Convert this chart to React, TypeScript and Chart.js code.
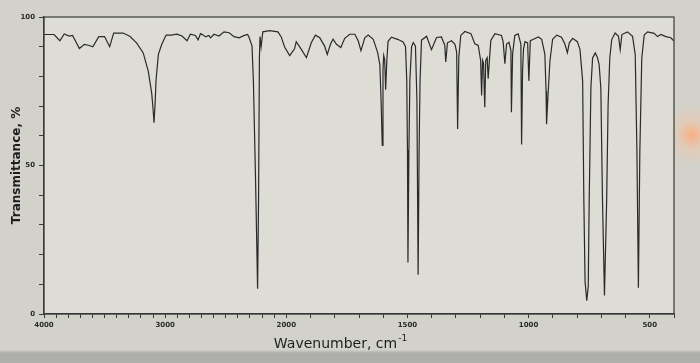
import React, { useEffect, useRef } from "react";
import { Chart, registerables } from "chart.js";

Chart.register(...registerables);

// IR spectrum: wavenumber (cm-1) and transmittance (%)
const wavenumbers = [
  4000, 3917, 3869, 3833, 3792, 3764, 3708, 3667, 3633, 3597, 3548, 3500, 3458, 3425, 3347, 3292,
  3236, 3181, 3139, 3111, 3100, 3092, 3083, 3075, 3056, 3028, 2992, 2950, 2903, 2861, 2819, 2792,
  2750, 2728, 2708, 2681, 2667, 2639, 2625, 2597, 2556, 2514, 2472, 2431, 2389, 2347, 2319, 2306,
  2283, 2272, 2254, 2237, 2229, 2222, 2217, 2208, 2194, 2139, 2069, 2042, 2014, 1986, 1966, 1959,
  1938, 1917, 1897, 1880, 1862, 1842, 1831, 1817, 1807, 1793, 1775, 1759, 1738, 1717, 1703, 1692,
  1676, 1662, 1641, 1623, 1614, 1609, 1604, 1601, 1598, 1594, 1590, 1585, 1580, 1566, 1538, 1518,
  1508, 1503, 1500, 1498, 1494, 1490, 1483, 1476, 1467, 1461, 1456, 1452, 1448, 1442, 1421, 1401,
  1380, 1360, 1346, 1342, 1335, 1318, 1304, 1297, 1293, 1288, 1280, 1263, 1238, 1222, 1208, 1198,
  1194, 1190, 1186, 1181, 1177, 1171, 1167, 1161, 1156, 1139, 1112, 1105, 1098, 1091, 1081, 1073,
  1071, 1066, 1057, 1043, 1032, 1029, 1025, 1021, 1015, 1004, 999, 993, 980, 960, 946, 933,
  928, 926, 919, 912, 901, 884, 864, 850, 840, 832, 818, 799, 788, 777, 772, 767,
  760, 754, 750, 743, 736, 725, 716, 709, 702, 695, 687, 678, 672, 665, 657, 643,
  629, 622, 615, 592, 571, 560, 553, 547, 541, 533, 523, 509, 482, 468, 454, 434,
  413, 400,
];

const transmittance = [
  94.1, 94.1, 92.0, 94.3, 93.6, 93.8, 89.4, 90.8, 90.5, 90.0, 93.4, 93.4, 90.0, 94.6, 94.6, 93.5,
  91.3, 87.9, 81.7, 74.3, 69.2, 64.4, 70.8, 78.9, 87.4, 90.8, 93.9, 93.9, 94.2, 93.6, 92.0, 94.2,
  93.8, 92.3, 94.4, 93.8, 93.3, 93.8, 93.0, 94.2, 93.6, 95.0, 94.7, 93.4, 93.0, 93.8, 94.1, 93.0,
  90.2, 78.9, 45.6, 8.5, 38.5, 86.0, 93.4, 90.0, 95.0, 95.4, 95.0, 93.3, 89.9, 87.0, 89.3, 91.7,
  89.1, 86.3, 91.3, 93.9, 93.0, 90.2, 87.4, 91.0, 92.5, 90.8, 89.7, 92.8, 94.2, 94.2, 91.9, 88.7,
  93.0, 93.9, 92.5, 88.0, 84.0, 72.2, 56.8, 82.2, 87.0, 85.6, 75.5, 85.6, 91.8, 93.2, 92.4, 91.6,
  90.0, 78.9, 55.2, 17.3, 55.0, 78.8, 90.0, 91.4, 90.2, 72.0, 13.2, 55.1, 78.7, 92.2, 93.5, 89.0,
  93.1, 93.3, 90.5, 84.9, 91.3, 92.0, 90.8, 88.2, 62.3, 86.5, 93.8, 95.1, 94.4, 91.0, 90.4, 85.4,
  73.6, 85.4, 84.4, 69.6, 85.4, 86.3, 79.2, 86.4, 92.1, 94.4, 93.8, 91.6, 84.3, 90.9, 91.5, 88.7,
  67.9, 87.6, 93.8, 94.3, 90.9, 57.1, 81.8, 89.3, 91.7, 91.3, 78.5, 92.0, 92.5, 93.3, 92.5, 87.5,
  75.1, 63.9, 75.1, 85.2, 92.5, 93.9, 93.2, 90.8, 88.0, 91.3, 92.8, 91.7, 89.1, 78.4, 37.9, 10.9,
  4.5, 9.2, 37.9, 76.1, 86.2, 87.9, 86.4, 84.0, 76.1, 37.9, 6.2, 37.9, 70.4, 86.2, 92.4, 94.6,
  93.5, 89.0, 94.1, 95.0, 93.5, 87.3, 54.7, 8.8, 54.6, 86.1, 93.9, 95.0, 94.5, 93.4, 94.1, 93.4,
  93.0, 91.9,
];

const xTickLabels = [4000, 3000, 2000, 1500, 1000, 500];
const yTickLabels = [0, 50, 100];
const xTickStep = 100;
const xStart = 4000;
const xEnd = 400;
const yTitle = "Transmittance, %";
const xTitle = "Wavenumber, cm";
const xTitleSup = "-1";

// split wavenumber axis: 4000-2000 at half the scale of 2000-400
const toAxis = (wn: number) => (wn >= 2000 ? 4000 - wn : 2000 + (2000 - wn) * 2);
const fromAxis = (u: number) => (u <= 2000 ? 4000 - u : 2000 - (u - 2000) / 2);

export default function App() {
  const ref = useRef<HTMLCanvasElement>(null);

  useEffect(() => {
    if (!ref.current) return;
    const framePlugin = {
      id: "frame",
      beforeDraw(chart: any) {
        const { ctx, chartArea: a } = chart;
        ctx.save();
        ctx.fillStyle = "#dddcd5";
        ctx.fillRect(a.left, a.top, a.right - a.left, a.bottom - a.top);
        ctx.restore();
      },
      afterDraw(chart: any) {
        const { ctx, chartArea: a } = chart;
        ctx.save();
        ctx.strokeStyle = "#3a3a3a";
        ctx.lineWidth = 1.2;
        ctx.strokeRect(a.left, a.top, a.right - a.left, a.bottom - a.top);
        // x axis title with superscript
        ctx.fillStyle = "#1e1e1e";
        ctx.textBaseline = "alphabetic";
        ctx.textAlign = "left";
        ctx.font = '14px "DejaVu Sans"';
        const w = ctx.measureText(xTitle).width;
        const cx = 340;
        const x0 = cx - (w + 9) / 2;
        ctx.fillText(xTitle, x0, 348);
        ctx.font = '9px "DejaVu Sans"';
        ctx.fillText(xTitleSup, x0 + w + 1, 341);
        ctx.restore();
      },
    };

    const chart = new Chart(ref.current, {
      type: "line",
      data: {
        datasets: [
          {
            data: wavenumbers.map((wn, i) => ({ x: toAxis(wn), y: transmittance[i] })),
            borderColor: "#2a2a2a",
            borderWidth: 1.2,
            pointRadius: 0,
            tension: 0,
            fill: false,
          },
        ],
      },
      options: {
        responsive: false,
        animation: false,
        devicePixelRatio: 1,
        layout: { padding: { top: 17, right: 26, left: 0, bottom: 0 } },
        plugins: { legend: { display: false }, tooltip: { enabled: false } },
        scales: {
          x: {
            type: "linear",
            min: toAxis(xStart),
            max: toAxis(xEnd),
            afterFit: (s: any) => {
              s.height = 49;
            },
            afterBuildTicks: (s: any) => {
              const t: any[] = [];
              for (let wn = xStart; wn >= xEnd; wn -= xTickStep) t.push({ value: toAxis(wn) });
              s.ticks = t;
            },
            ticks: {
              autoSkip: false,
              maxRotation: 0,
              padding: 3,
              color: "#2a2a2a",
              font: { family: "DejaVu Sans", size: 7, weight: "bold" },
              callback: (v: any) => {
                const wn = Math.round(fromAxis(Number(v)));
                return xTickLabels.includes(wn) ? String(wn) : "";
              },
            },
            grid: {
              drawOnChartArea: false,
              tickLength: 4,
              tickColor: "#3a3a3a",
              tickWidth: 1,
            },
            border: { color: "#3a3a3a", width: 1.2 },
          },
          y: {
            min: 0,
            max: 100,
            afterFit: (s: any) => {
              s.width = 44;
            },
            ticks: {
              stepSize: 10,
              padding: 4,
              color: "#2a2a2a",
              font: { family: "DejaVu Sans", size: 7, weight: "bold" },
              callback: (v: any) => (yTickLabels.includes(Number(v)) ? String(v) : ""),
            },
            grid: {
              drawOnChartArea: false,
              tickLength: 5,
              tickColor: "#3a3a3a",
              tickWidth: 1,
            },
            border: { color: "#3a3a3a", width: 1.2 },
            title: {
              display: true,
              text: yTitle,
              color: "#1e1e1e",
              font: { family: "DejaVu Sans", size: 12, weight: "bold" },
              padding: { top: 10, bottom: 0 },
            },
          },
        },
      },
      plugins: [framePlugin],
    });
    return () => chart.destroy();
  }, []);

  return (
    <div
      style={{
        position: "fixed",
        left: 0,
        top: 0,
        width: 700,
        height: 363,
        background:
          "radial-gradient(circle at 692px 135px, rgba(255,170,120,0.85) 0px, rgba(255,190,150,0.35) 14px, rgba(220,215,205,0) 32px), linear-gradient(to bottom, rgba(0,0,0,0) 350px, #aeaeaa 353px), #d2d2cb",
      }}
    >
      <canvas ref={ref} width={700} height={363} style={{ width: 700, height: 363, display: "block" }} />
    </div>
  );
}
